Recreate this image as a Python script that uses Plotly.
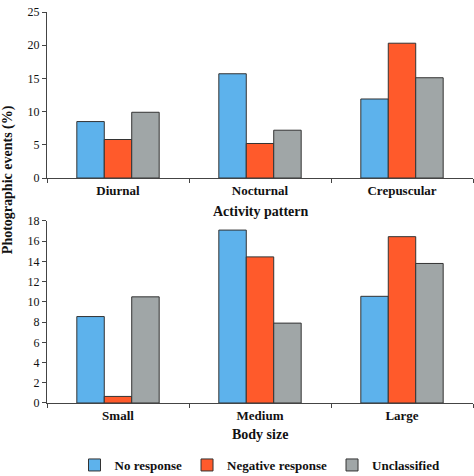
import plotly.graph_objects as go

activity = ["Diurnal", "Nocturnal", "Crepuscular"]
body_size = ["Small", "Medium", "Large"]
series_names = ["No response", "Negative response", "Unclassified"]

activity_no_response = [8.5, 15.7, 11.9]
activity_negative = [5.8, 5.2, 20.3]
activity_unclassified = [9.9, 7.2, 15.1]

size_no_response = [8.55, 17.1, 10.55]
size_negative = [0.65, 14.45, 16.45]
size_unclassified = [10.5, 7.9, 13.8]

colors = ["#5DB2EC", "#FF5A2B", "#A0A6A7"]
serif = "Liberation Serif"

fig = go.Figure()

top = [activity_no_response, activity_negative, activity_unclassified]
bottom = [size_no_response, size_negative, size_unclassified]

for i, name in enumerate(series_names):
    fig.add_trace(
        go.Bar(
            x=activity,
            y=top[i],
            name=name,
            marker=dict(color=colors[i], line=dict(color="#333333", width=1)),
            xaxis="x",
            yaxis="y",
            legendgroup=name,
            showlegend=True,
        )
    )
    fig.add_trace(
        go.Bar(
            x=body_size,
            y=bottom[i],
            name=name,
            marker=dict(color=colors[i], line=dict(color="#333333", width=1)),
            xaxis="x2",
            yaxis="y2",
            legendgroup=name,
            showlegend=False,
        )
    )

xaxis_style = dict(
    showline=True,
    linecolor="#444444",
    linewidth=1,
    ticks="outside",
    tickson="boundaries",
    ticklen=4,
    tickcolor="#444444",
    showgrid=False,
    automargin=False,
    tickfont=dict(family=serif, size=13, color="#111111", weight="bold"),
)
yaxis_style = dict(
    showline=True,
    linecolor="#444444",
    linewidth=1,
    ticks="outside",
    ticklen=4,
    tickcolor="#444444",
    showgrid=False,
    zeroline=False,
    automargin=False,
    tickfont=dict(family=serif, size=12, color="#111111"),
)

fig.update_layout(
    width=474,
    height=476,
    autosize=False,
    margin=dict(l=47, r=1, t=12, b=73, autoexpand=False),
    plot_bgcolor="white",
    paper_bgcolor="white",
    barmode="group",
    bargap=0.42,
    bargroupgap=0,
    xaxis=dict(domain=[0, 1], anchor="y", **xaxis_style),
    yaxis=dict(domain=[0.5754, 1], anchor="x", range=[0, 25], dtick=5, **yaxis_style),
    xaxis2=dict(domain=[0, 1], anchor="y2", **xaxis_style),
    yaxis2=dict(domain=[0, 0.4655], anchor="x2", range=[0, 18], dtick=2, **yaxis_style),
    legend=dict(
        orientation="h",
        x=0.5,
        xanchor="center",
        y=-0.1586,
        yanchor="middle",
        font=dict(family=serif, size=13, color="#111111", weight="bold"),
        itemwidth=30,
        tracegroupgap=0,
    ),
    annotations=[
        dict(
            text="<b>Photographic events (%)</b>",
            xref="paper",
            yref="paper",
            x=0,
            xshift=-39,
            xanchor="center",
            y=0.57,
            yanchor="middle",
            textangle=-90,
            showarrow=False,
            font=dict(family=serif, size=14, color="#111111"),
        ),
        dict(
            text="<b>Activity pattern</b>",
            xref="paper",
            yref="paper",
            x=0.5,
            y=0.491,
            yanchor="middle",
            showarrow=False,
            font=dict(family=serif, size=14, color="#111111"),
        ),
        dict(
            text="<b>Body size</b>",
            xref="paper",
            yref="paper",
            x=0.5,
            y=-0.0818,
            yanchor="middle",
            showarrow=False,
            font=dict(family=serif, size=14, color="#111111"),
        ),
    ],
)

# drop the default page margin so the figure sits at the window's top-left
fig.write_html(
    "out.html",
    config={"displayModeBar": False},
    post_script="document.body.style.margin = '0';",
)
